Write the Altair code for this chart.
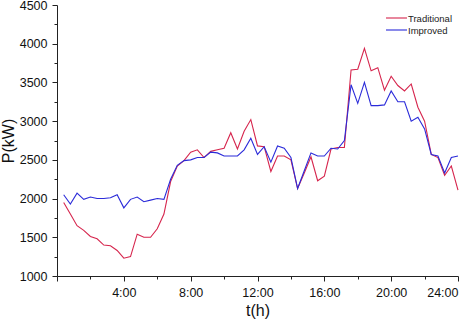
import altair as alt
import pandas as pd

t_hours = [round(0.4 * k, 1) for k in range(1, 61)]

traditional = [1950, 1800, 1650, 1590, 1510, 1480, 1400, 1390, 1330, 1230,
               1250, 1540, 1500, 1500, 1610, 1800, 2220, 2420, 2490, 2600,
               2630, 2530, 2610, 2630, 2650, 2850, 2640, 2870, 3020, 2680,
               2670, 2350, 2550, 2550, 2500, 2130, 2330, 2540, 2230, 2290,
               2640, 2660, 2660, 3660, 3670, 3940, 3650, 3690, 3400, 3580,
               3460, 3390, 3480, 3180, 3000, 2570, 2530, 2300, 2420, 2110]

improved = [2050, 1930, 2070, 1990, 2020, 2000, 2000, 2010, 2050, 1880,
            1990, 2020, 1960, 1980, 2000, 1990, 2250, 2430, 2490, 2500,
            2530, 2530, 2600, 2590, 2550, 2550, 2550, 2630, 2780, 2570,
            2670, 2470, 2680, 2650, 2530, 2130, 2360, 2590, 2550, 2550,
            2650, 2640, 2750, 3470, 3230, 3500, 3200, 3200, 3210, 3390,
            3250, 3250, 3000, 3050, 2900, 2570, 2550, 2330, 2530, 2550]

series_names = ["Traditional", "Improved"]
series_colors = ["#d6254d", "#2b2bd9"]

x_ticks = [0, 2, 4, 6, 8, 10, 12, 14, 16, 18, 20, 22, 24]
y_ticks = [1000 + 250 * i for i in range(15)]

df = pd.concat([
    pd.DataFrame({"t": t_hours, "P": traditional, "series": series_names[0]}),
    pd.DataFrame({"t": t_hours, "P": improved, "series": series_names[1]}),
])
legend_df = pd.DataFrame({"series": series_names})

font = "Liberation Sans"
color_enc = alt.Color("series:N", scale=alt.Scale(domain=series_names, range=series_colors),
                      legend=None)

lines = alt.Chart(df).mark_line(strokeWidth=1.1).encode(
    x=alt.X("t:Q", scale=alt.Scale(domain=[0, 24], nice=False),
            axis=alt.Axis(values=x_ticks, title="t(h)", grid=False,
                          labelExpr="(datum.value % 4 === 0 && datum.value > 0) ? datum.value + ':00' : ''",
                          tickSize={"condition": {"test": "datum.value % 4 === 0", "value": 5}, "value": 3},
                          labelPadding=5, titlePadding=4)),
    y=alt.Y("P:Q", scale=alt.Scale(domain=[1000, 4500], nice=False),
            axis=alt.Axis(values=y_ticks, title="P(kW)", grid=False, format="d",
                          labelExpr="datum.value % 500 === 0 ? datum.label : ''",
                          tickSize={"condition": {"test": "datum.value % 500 === 0", "value": 5}, "value": 3},
                          labelPadding=5, titlePadding=3)),
    color=color_enc,
    order="t:Q",
)

legend_y = alt.Y("series:N", scale=alt.Scale(type="point", padding=0, domain=series_names, range=[13, 25]),
                 axis=None)

legend_rules = alt.Chart(legend_df).mark_rule(strokeWidth=1.1).encode(
    x=alt.value(329), x2=alt.value(350), y=legend_y, color=color_enc,
)
legend_text = alt.Chart(legend_df).mark_text(
    align="left", baseline="middle", font=font, fontSize=9.5, color="#222", dy=0.5,
).encode(
    x=alt.value(351), y=legend_y, text="series:N",
)

chart = alt.layer(lines, legend_rules, legend_text).resolve_scale(
    y="independent"
).properties(
    width=401, height=271,
    autosize=alt.AutoSizeParams(type="none"),
    padding={"left": 57, "top": 5, "right": 16, "bottom": 47},
).configure_view(stroke=None).configure_axis(
    labelFont=font, titleFont=font, labelFontSize=12.5, titleFontSize=16,
    titleFontWeight="normal", labelColor="#111", titleColor="#111",
    domainColor="#222", tickColor="#222",
)

chart.save("out.html", embed_options={"renderer": "svg", "actions": False})
